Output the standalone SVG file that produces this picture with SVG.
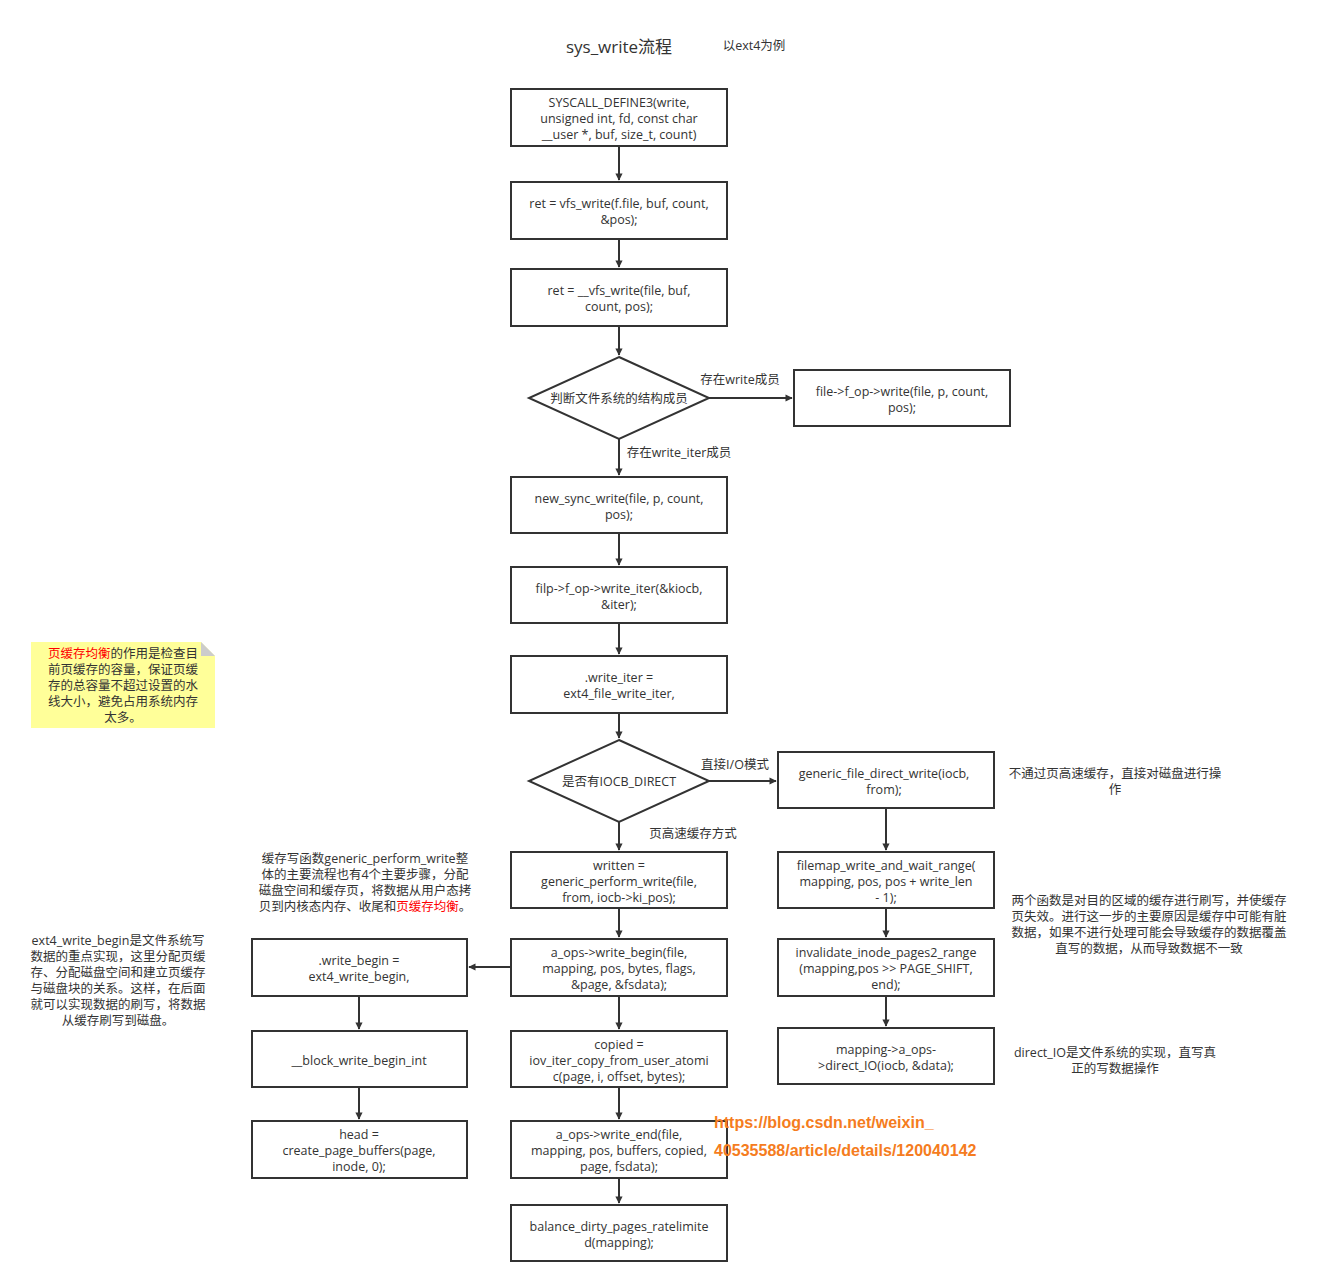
<svg xmlns="http://www.w3.org/2000/svg" width="1318" height="1285" viewBox="0 0 1318 1285">
<style>
text{font-family:"Open Sans","Noto Sans CJK SC",sans-serif;font-size:12.5px;fill:#333;text-anchor:middle}
.b{fill:#fff;stroke:#333;stroke-width:2}
.l{stroke:#333;stroke-width:2;fill:none;marker-end:url(#a)}
.s{text-anchor:start}
.r{fill:#f00}
.w{fill:#f57c20;font-weight:bold;font-size:16px;text-anchor:start;font-family:"Liberation Sans","Noto Sans CJK SC",sans-serif}
</style>
<defs><marker id="a" viewBox="0 0 10 10" refX="9" refY="5" markerWidth="6" markerHeight="6" markerUnits="userSpaceOnUse" orient="auto" style="overflow:visible"><path d="M0,0L10,5L0,10z" fill="#333" transform="scale(1.2) translate(-1.5,-0.8)"/></marker></defs>
<rect width="1318" height="1285" fill="#fff"/>
<text x="619" y="53" style="font-size:17px">sys_write流程</text>
<text x="754" y="50">以ext4为例</text>
<g id="connectors">
<path class="l" d="M619,146V180"/><path class="l" d="M619,239V267"/><path class="l" d="M619,326V355"/>
<path class="l" d="M709,398H792"/><path class="l" d="M619,439V475"/><path class="l" d="M619,533V565"/>
<path class="l" d="M619,623V654"/><path class="l" d="M619,713V738"/><path class="l" d="M709,781H776"/>
<path class="l" d="M619,822V850"/><path class="l" d="M619,908V937"/><path class="l" d="M619,996V1029"/>
<path class="l" d="M619,1087V1119"/><path class="l" d="M619,1178V1203"/><path class="l" d="M511,967H469"/>
<path class="l" d="M359,996V1029"/><path class="l" d="M359,1087V1119"/>
<path class="l" d="M886,808V850"/><path class="l" d="M886,908V937"/><path class="l" d="M886,996V1026"/>
<text x="740" y="384">存在write成员</text><text x="679" y="457">存在write_iter成员</text>
<text x="735" y="769">直接I/O模式</text><text x="693" y="838">页高速缓存方式</text>
</g>
<g id="n1"><rect class="b" x="511" y="89" width="216" height="57"/><text x="619" y="107">SYSCALL_DEFINE3(write,</text><text x="619" y="123">unsigned int, fd, const char</text><text x="619" y="139">__user *, buf, size_t, count)</text></g>
<g id="n2"><rect class="b" x="511" y="182" width="216" height="57"/><text x="619" y="208">ret = vfs_write(f.file, buf, count,</text><text x="619" y="224">&amp;pos);</text></g>
<g id="n3"><rect class="b" x="511" y="269" width="216" height="57"/><text x="619" y="295">ret = __vfs_write(file, buf,</text><text x="619" y="311">count, pos);</text></g>
<g id="d1"><path class="b" d="M619,357L709,398L619,439L529,398z"/><text x="619" y="403">判断文件系统的结构成员</text></g>
<g id="n4"><rect class="b" x="794" y="370" width="216" height="56"/><text x="902" y="396">file-&gt;f_op-&gt;write(file, p, count,</text><text x="902" y="412">pos);</text></g>
<g id="n5"><rect class="b" x="511" y="477" width="216" height="56"/><text x="619" y="503">new_sync_write(file, p, count,</text><text x="619" y="519">pos);</text></g>
<g id="n6"><rect class="b" x="511" y="567" width="216" height="56"/><text x="619" y="593">filp-&gt;f_op-&gt;write_iter(&amp;kiocb,</text><text x="619" y="609">&amp;iter);</text></g>
<g id="n7"><rect class="b" x="511" y="656" width="216" height="57"/><text x="619" y="682">.write_iter =</text><text x="619" y="698">ext4_file_write_iter,</text></g>
<g id="d2"><path class="b" d="M619,740L709,781L619,822L529,781z"/><text x="619" y="786">是否有IOCB_DIRECT</text></g>
<g id="n8"><rect class="b" x="778" y="752" width="216" height="56"/><text x="884" y="778">generic_file_direct_write(iocb,</text><text x="884" y="794">from);</text></g>
<g id="n9"><rect class="b" x="511" y="852" width="216" height="56"/><text x="619" y="870">written =</text><text x="619" y="886">generic_perform_write(file,</text><text x="619" y="902">from, iocb-&gt;ki_pos);</text></g>
<g id="n10"><rect class="b" x="511" y="939" width="216" height="57"/><text x="619" y="957">a_ops-&gt;write_begin(file,</text><text x="619" y="973">mapping, pos, bytes, flags,</text><text x="619" y="989">&amp;page, &amp;fsdata);</text></g>
<g id="n11"><rect class="b" x="511" y="1031" width="216" height="56"/><text x="619" y="1049">copied =</text><text x="619" y="1065">iov_iter_copy_from_user_atomi</text><text x="619" y="1081">c(page, i, offset, bytes);</text></g>
<g id="n12"><rect class="b" x="511" y="1121" width="216" height="57"/><text x="619" y="1139">a_ops-&gt;write_end(file,</text><text x="619" y="1155">mapping, pos, buffers, copied,</text><text x="619" y="1171">page, fsdata);</text></g>
<g id="n13"><rect class="b" x="511" y="1205" width="216" height="56"/><text x="619" y="1231">balance_dirty_pages_ratelimite</text><text x="619" y="1247">d(mapping);</text></g>
<g id="n14"><rect class="b" x="252" y="939" width="215" height="57"/><text x="359" y="965">.write_begin  =</text><text x="359" y="981">ext4_write_begin,</text></g>
<g id="n15"><rect class="b" x="252" y="1031" width="215" height="56"/><text x="359" y="1065">__block_write_begin_int</text></g>
<g id="n16"><rect class="b" x="252" y="1121" width="215" height="57"/><text x="359" y="1139">head =</text><text x="359" y="1155">create_page_buffers(page,</text><text x="359" y="1171">inode, 0);</text></g>
<g id="n17"><rect class="b" x="778" y="852" width="216" height="56"/><text x="886" y="870">filemap_write_and_wait_range(</text><text x="886" y="886">mapping, pos, pos + write_len</text><text x="886" y="902">- 1);</text></g>
<g id="n18"><rect class="b" x="778" y="939" width="216" height="57"/><text x="886" y="957">invalidate_inode_pages2_range</text><text x="886" y="973">(mapping,pos &gt;&gt; PAGE_SHIFT,</text><text x="886" y="989">end);</text></g>
<g id="n19"><rect class="b" x="778" y="1028" width="216" height="56"/><text x="886" y="1054">mapping-&gt;a_ops-</text><text x="886" y="1070">&gt;direct_IO(iocb, &amp;data);</text></g>
<g id="note1"><path d="M31,642H201L215,656V728H31z" fill="#ffff99"/><path d="M201,642V656H215z" fill="#ccc"/>
<text x="123" y="658"><tspan class="r">页缓存均衡</tspan>的作用是检查目</text><text x="123" y="674">前页缓存的容量，保证页缓</text><text x="123" y="690">存的总容量不超过设置的水</text><text x="123" y="706">线大小，避免占用系统内存</text><text x="123" y="722">太多。</text></g>
<g id="t1"><text x="365" y="863">缓存写函数generic_perform_write整</text><text x="365" y="879">体的主要流程也有4个主要步骤，分配</text><text x="365" y="895">磁盘空间和缓存页，将数据从用户态拷</text><text x="365" y="911">贝到内核态内存、收尾和<tspan class="r">页缓存均衡</tspan>。</text></g>
<g id="t2"><text x="118" y="945">ext4_write_begin是文件系统写</text><text x="118" y="961">数据的重点实现，这里分配页缓</text><text x="118" y="977">存、分配磁盘空间和建立页缓存</text><text x="118" y="993">与磁盘块的关系。这样，在后面</text><text x="118" y="1009">就可以实现数据的刷写，将数据</text><text x="118" y="1025">从缓存刷写到磁盘。</text></g>
<g id="t3"><text x="1115" y="778">不通过页高速缓存，直接对磁盘进行操</text><text x="1115" y="794">作</text></g>
<g id="t4"><text x="1149" y="905">两个函数是对目的区域的缓存进行刷写，并使缓存</text><text x="1149" y="921">页失效。进行这一步的主要原因是缓存中可能有脏</text><text x="1149" y="937">数据，如果不进行处理可能会导致缓存的数据覆盖</text><text x="1149" y="953">直写的数据，从而导致数据不一致</text></g>
<g id="t5"><text x="1115" y="1057">direct_IO是文件系统的实现，直写真</text><text x="1115" y="1073">正的写数据操作</text></g>
<text class="w" x="714" y="1128">https://blog.csdn.net/weixin_</text>
<text class="w" x="714" y="1156">40535588/article/details/120040142</text>
</svg>
